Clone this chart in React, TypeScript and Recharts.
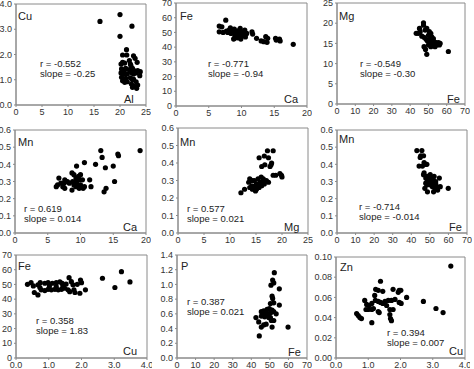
import React from 'react';
import { ScatterChart, Scatter, XAxis, YAxis, ReferenceArea } from 'recharts';

type Pair = [number, number];

const cuVsAl: Pair[] = [
  [16.15, 3.31], [20.0, 3.58], [22.3, 3.12], [20.0, 2.72], [21.25, 2.19], [20.5, 1.98], [21.3, 1.98],
  [22.6, 1.95], [20.5, 1.69], [21.8, 1.76], [22.9, 1.85], [23.3, 1.69], [20.2, 1.62], [20.9, 1.66],
  [22.1, 1.56], [23.4, 1.36], [23.9, 1.32], [20.3, 1.43], [21.1, 1.45], [21.8, 1.4], [22.4, 1.45],
  [22.7, 1.36], [22.2, 1.29], [20.2, 1.27], [20.8, 1.23], [21.4, 1.23], [22.6, 1.23], [23.1, 1.27],
  [23.8, 1.16], [20.3, 1.1], [21.1, 1.06], [22.0, 1.08], [20.5, 0.96], [21.4, 0.92], [22.4, 1.0],
  [23.1, 0.92], [20.9, 0.9], [22.2, 0.83], [22.7, 0.74], [23.4, 0.79], [22.4, 0.7], [23.2, 0.66],
  [22.6, 1.03], [20.8, 1.35], [22.0, 1.62],
];

const feVsCa: Pair[] = [
  [7.6, 58.3], [6.6, 54.3], [7.0, 53.8], [6.6, 50.4], [7.7, 50.9], [8.1, 51.6], [8.3, 53.1], [8.6, 50.9],
  [8.9, 52.2], [9.0, 49.3], [9.3, 50.9], [9.4, 48.2], [9.5, 50.0], [9.7, 51.6], [9.9, 49.3], [10.1, 47.8],
  [10.2, 50.4], [10.3, 48.7], [10.5, 51.6], [10.6, 46.9], [8.8, 45.5], [8.9, 46.0], [9.9, 45.5],
  [9.8, 52.7], [9.3, 46.4], [11.6, 50.4], [11.7, 48.9], [12.3, 46.0], [13.0, 44.2], [13.4, 43.7],
  [13.9, 43.3], [13.7, 47.1], [14.0, 46.0], [15.2, 46.0], [15.3, 44.8], [15.8, 45.5], [15.9, 44.2],
  [17.9, 41.9], [8.4, 49.3], [7.9, 50.0], [10.8, 49.3], [9.5, 46.4], [9.0, 48.2], [7.2, 50.0],
];

const mgVsFe: Pair[] = [
  [47.3, 20.1], [47.3, 19.5], [43.3, 17.5], [45.5, 17.9], [48.2, 18.3], [49.1, 18.7], [46.4, 16.8],
  [47.6, 16.5], [50.0, 17.0], [51.3, 17.5], [51.8, 16.6], [52.7, 16.2], [50.9, 16.0], [53.1, 15.4],
  [54.2, 15.2], [55.5, 15.2], [56.4, 15.0], [51.8, 15.0], [52.7, 14.6], [54.5, 14.6], [56.0, 14.6],
  [50.5, 15.2], [50.0, 14.6], [51.3, 14.2], [47.6, 14.2], [48.4, 13.5], [49.1, 12.3], [60.9, 13.0],
  [45.1, 18.7], [44.5, 17.5], [49.5, 15.6], [52.4, 15.8], [53.6, 14.2], [48.7, 16.0], [50.5, 17.9],
];

const mnVsCa: Pair[] = [
  [13.1, 0.48], [19.1, 0.48], [15.7, 0.46], [15.8, 0.45], [13.3, 0.44], [10.6, 0.41], [12.3, 0.40],
  [9.4, 0.39], [13.8, 0.38], [15.0, 0.39], [8.7, 0.35], [9.0, 0.34], [9.7, 0.33], [10.0, 0.34],
  [9.3, 0.32], [9.9, 0.31], [10.3, 0.31], [11.4, 0.31], [6.7, 0.32], [7.6, 0.31], [8.0, 0.30],
  [7.5, 0.29], [8.3, 0.29], [8.8, 0.30], [7.0, 0.29], [6.5, 0.28], [7.3, 0.27], [9.0, 0.28],
  [9.5, 0.28], [10.0, 0.28], [9.3, 0.27], [10.6, 0.27], [9.8, 0.26], [10.4, 0.26], [8.7, 0.25],
  [7.6, 0.26], [11.6, 0.27], [15.2, 0.30], [13.9, 0.26], [13.6, 0.24], [6.3, 0.27], [9.4, 0.30],
];

const mnVsMg: Pair[] = [
  [17.2, 0.47], [18.3, 0.47], [15.6, 0.43], [16.6, 0.44], [17.4, 0.43], [17.9, 0.39], [18.0, 0.40],
  [16.7, 0.39], [16.1, 0.38], [17.7, 0.38], [13.8, 0.31], [14.3, 0.30], [13.6, 0.29], [15.4, 0.31],
  [16.0, 0.32], [16.4, 0.31], [17.0, 0.30], [17.4, 0.29], [18.3, 0.33], [18.8, 0.33], [19.6, 0.34],
  [19.9, 0.33], [20.0, 0.32], [14.2, 0.27], [14.5, 0.26], [14.8, 0.27], [15.1, 0.28], [15.4, 0.28],
  [14.7, 0.25], [14.3, 0.25], [14.9, 0.24], [15.6, 0.26], [16.1, 0.27], [15.8, 0.29], [16.6, 0.28],
  [14.7, 0.30], [12.1, 0.23], [12.8, 0.25], [15.1, 0.25], [13.8, 0.26], [16.2, 0.29],
];

const mnVsFe: Pair[] = [
  [43.0, 0.48], [45.7, 0.48], [45.1, 0.45], [44.8, 0.44], [46.6, 0.45], [44.2, 0.39], [46.0, 0.39],
  [47.8, 0.40], [46.9, 0.41], [48.4, 0.40], [46.9, 0.35], [46.6, 0.34], [48.7, 0.33], [50.2, 0.34],
  [47.8, 0.32], [50.9, 0.32], [52.3, 0.33], [55.1, 0.32], [48.7, 0.30], [50.5, 0.30], [51.9, 0.31],
  [53.1, 0.30], [48.4, 0.28], [50.5, 0.28], [52.3, 0.29], [51.4, 0.27], [52.7, 0.26], [53.8, 0.27],
  [55.6, 0.27], [54.2, 0.25], [52.0, 0.24], [47.3, 0.26], [48.7, 0.24], [59.9, 0.26], [47.8, 0.29],
  [49.6, 0.31], [53.1, 0.29], [51.1, 0.29],
];

const feVsCu: Pair[] = [
  [3.22, 58.7], [2.64, 54.2], [3.02, 47.9], [3.48, 51.7], [2.12, 46.3], [0.35, 50.1], [0.46, 51.2],
  [0.53, 49.0], [0.67, 49.7], [0.74, 51.2], [0.88, 50.8], [0.98, 51.2], [1.11, 50.8], [1.23, 51.2],
  [1.34, 51.7], [1.41, 50.8], [1.53, 50.3], [1.62, 54.6], [1.69, 51.9], [1.74, 49.7], [1.87, 50.1],
  [1.97, 53.0], [2.0, 51.2], [1.95, 44.0], [0.56, 44.5], [0.67, 42.9], [0.77, 46.3], [0.88, 45.8],
  [0.98, 46.7], [1.08, 46.3], [1.19, 46.7], [1.29, 46.3], [1.39, 46.7], [1.49, 47.4], [1.59, 46.3],
  [1.64, 45.1], [1.77, 46.3], [1.8, 44.5], [0.73, 47.9], [1.02, 49.0], [1.23, 48.5], [1.43, 49.0],
];

const pVsFe: Pair[] = [
  [52.4, 1.16], [51.5, 1.06], [52.1, 1.02], [50.6, 0.99], [55.1, 0.94], [51.2, 0.84], [51.5, 0.81],
  [50.3, 0.74], [52.1, 0.75], [55.1, 0.72], [49.7, 0.67], [51.2, 0.65], [45.4, 0.63], [46.7, 0.64],
  [47.6, 0.61], [46.1, 0.60], [48.5, 0.58], [49.4, 0.60], [50.3, 0.61], [52.1, 0.63], [53.4, 0.60],
  [45.4, 0.57], [47.2, 0.56], [49.4, 0.55], [50.8, 0.51], [52.1, 0.51], [42.5, 0.55], [44.0, 0.49],
  [45.4, 0.42], [46.7, 0.45], [48.0, 0.46], [51.2, 0.42], [44.3, 0.30], [59.8, 0.42], [50.3, 0.55],
  [48.5, 0.66],
];

const znVsCu: Pair[] = [
  [3.56, 0.091], [1.38, 0.076], [1.77, 0.068], [1.96, 0.067], [2.01, 0.067], [1.93, 0.065], [1.23, 0.068],
  [1.31, 0.067], [1.45, 0.066], [1.2, 0.062], [2.19, 0.060], [0.89, 0.057], [1.22, 0.057], [1.31, 0.056],
  [1.38, 0.055], [1.52, 0.056], [1.62, 0.057], [1.72, 0.057], [1.83, 0.058], [1.96, 0.055], [2.02, 0.054],
  [2.71, 0.056], [0.95, 0.053], [1.03, 0.052], [1.11, 0.054], [1.45, 0.054], [1.57, 0.052], [1.67, 0.048],
  [1.77, 0.048], [1.16, 0.049], [0.93, 0.048], [1.0, 0.048], [1.11, 0.048], [1.31, 0.046], [1.34, 0.045],
  [3.1, 0.049], [3.32, 0.045], [0.64, 0.044], [0.69, 0.042], [0.74, 0.040], [0.79, 0.039], [1.67, 0.043],
  [1.69, 0.039], [1.72, 0.037], [1.11, 0.035],
];

const varLabels = ['Cu', 'Fe', 'Mg', 'Mn', 'Mn', 'Mn', 'Fe', 'P', 'Zn'];
const xLabels = ['Al', 'Ca', 'Fe', 'Ca', 'Mg', 'Fe', 'Cu', 'Fe', 'Cu'];
const rValues = ['-0.552', '-0.771', '-0.549', '0.619', '0.577', '-0.714', '0.358', '0.387', '0.394'];
const slopeValues = ['-0.25', '-0.94', '-0.30', '0.014', '0.021', '-0.014', '1.83', '0.021', '0.007'];

const ticks0to25 = [0, 5, 10, 15, 20, 25];
const ticks0to20 = [0, 5, 10, 15, 20];
const ticks0to70 = [0, 10, 20, 30, 40, 50, 60, 70];
const ticks0to4 = [0, 1, 2, 3, 4];
const ticks0to06 = [0, 0.1, 0.2, 0.3, 0.4, 0.5, 0.6];
const ticks0to14 = [0, 0.2, 0.4, 0.6, 0.8, 1.0, 1.2, 1.4];
const ticks0to01 = [0, 0.02, 0.04, 0.06, 0.08, 0.1];

type Panel = {
  data: Pair[];
  box: [number, number, number, number];
  xTicks: number[];
  yTicks: number[];
  xDec: number;
  yDec: number;
  varPos: [number, number];
  rPos: [number, number];
  xlPos: [number, number];
};

const panels: Panel[] = [
  { data: cuVsAl, box: [16, 4, 146, 105], xTicks: ticks0to25, yTicks: ticks0to4, xDec: 0, yDec: 1, varPos: [18, 11], rPos: [40, 59], xlPos: [124, 94] },
  { data: feVsCa, box: [176, 3, 307, 106], xTicks: ticks0to20, yTicks: ticks0to70, xDec: 0, yDec: 0, varPos: [180, 11], rPos: [208, 59], xlPos: [284, 94] },
  { data: mgVsFe, box: [337, 3, 465, 104], xTicks: ticks0to70, yTicks: ticks0to25, xDec: 0, yDec: 0, varPos: [339, 11], rPos: [360, 59], xlPos: [447, 94] },
  { data: mnVsCa, box: [15, 130, 146, 233], xTicks: ticks0to20, yTicks: ticks0to06, xDec: 0, yDec: 1, varPos: [18, 137], rPos: [24, 204], xlPos: [123, 222] },
  { data: mnVsMg, box: [178, 128, 308, 233], xTicks: ticks0to25, yTicks: ticks0to06, xDec: 0, yDec: 1, varPos: [180, 137], rPos: [187, 204], xlPos: [284, 222] },
  { data: mnVsFe, box: [337, 130, 467, 233], xTicks: ticks0to70, yTicks: ticks0to06, xDec: 0, yDec: 1, varPos: [339, 134], rPos: [359, 202], xlPos: [449, 222] },
  { data: feVsCu, box: [16, 255, 147, 358], xTicks: ticks0to4, yTicks: ticks0to70, xDec: 1, yDec: 0, varPos: [18, 261], rPos: [36, 316], xlPos: [123, 346] },
  { data: pVsFe, box: [177, 255, 307, 358], xTicks: ticks0to70, yTicks: ticks0to14, xDec: 0, yDec: 1, varPos: [181, 261], rPos: [187, 297], xlPos: [288, 347] },
  { data: znVsCu, box: [336, 257, 465, 358], xTicks: ticks0to4, yTicks: ticks0to01, xDec: 1, yDec: 2, varPos: [340, 262], rPos: [387, 328], xlPos: [449, 346] },
];

const Dot = (props: any) => <circle cx={props.cx} cy={props.cy} r={2.6} fill="#000" />;

const YW = 30;
const MT = 5;
const MR = 5;
const XH = 16;
const AXIS = '#8a8a8a';
const TICK = { fontSize: 9, fill: '#333' };

function PanelChart({ p }: { p: Panel }) {
  const [x0, y0, x1, y1] = p.box;
  const w = x1 - x0;
  const h = y1 - y0;
  const xd = p.xTicks;
  const yd = p.yTicks;
  const pts = p.data.map(([x, y]) => ({ x, y }));
  return (
    <div style={{ position: 'absolute', left: x0 - YW, top: y0 - MT }}>
      <ScatterChart width={YW + w + MR} height={MT + h + XH} margin={{ top: MT, right: MR, bottom: 0, left: 0 }}>
        <XAxis
          type="number"
          dataKey="x"
          domain={[xd[0], xd[xd.length - 1]]}
          ticks={xd}
          interval={0}
          height={XH}
          tickSize={2}
          tickMargin={2}
          stroke={AXIS}
          tick={TICK}
          tickFormatter={(v: number) => v.toFixed(p.xDec)}
          allowDataOverflow
        />
        <YAxis
          type="number"
          dataKey="y"
          domain={[yd[0], yd[yd.length - 1]]}
          ticks={yd}
          interval={0}
          width={YW}
          tickSize={2}
          tickMargin={2}
          stroke={AXIS}
          tick={TICK}
          tickFormatter={(v: number) => v.toFixed(p.yDec)}
          allowDataOverflow
        />
        <ReferenceArea
          x1={xd[0]}
          x2={xd[xd.length - 1]}
          y1={yd[0]}
          y2={yd[yd.length - 1]}
          fill="none"
          stroke={AXIS}
          strokeWidth={1}
          ifOverflow="visible"
        />
        <Scatter data={pts} isAnimationActive={false} shape={Dot} />
      </ScatterChart>
    </div>
  );
}

export default function App() {
  return (
    <div
      style={{
        position: 'absolute',
        left: 0,
        top: 0,
        width: 474,
        height: 369,
        background: '#fff',
        fontFamily: '"Liberation Sans", Arial, sans-serif',
        overflow: 'hidden',
      }}
    >
      {panels.map((p, i) => (
        <PanelChart key={i} p={p} />
      ))}
      {panels.map((p, i) => (
        <React.Fragment key={'t' + i}>
          <div style={{ position: 'absolute', left: p.varPos[0], top: p.varPos[1], fontSize: 11, lineHeight: '11px', color: '#222' }}>
            {varLabels[i]}
          </div>
          <div style={{ position: 'absolute', left: p.rPos[0], top: p.rPos[1], fontSize: 9.5, lineHeight: '9.5px', color: '#222', whiteSpace: 'nowrap' }}>
            <div>r = {rValues[i]}</div>
            <div>slope = {slopeValues[i]}</div>
          </div>
          <div style={{ position: 'absolute', left: p.xlPos[0], top: p.xlPos[1], fontSize: 11, lineHeight: '11px', color: '#222' }}>
            {xLabels[i]}
          </div>
        </React.Fragment>
      ))}
    </div>
  );
}
